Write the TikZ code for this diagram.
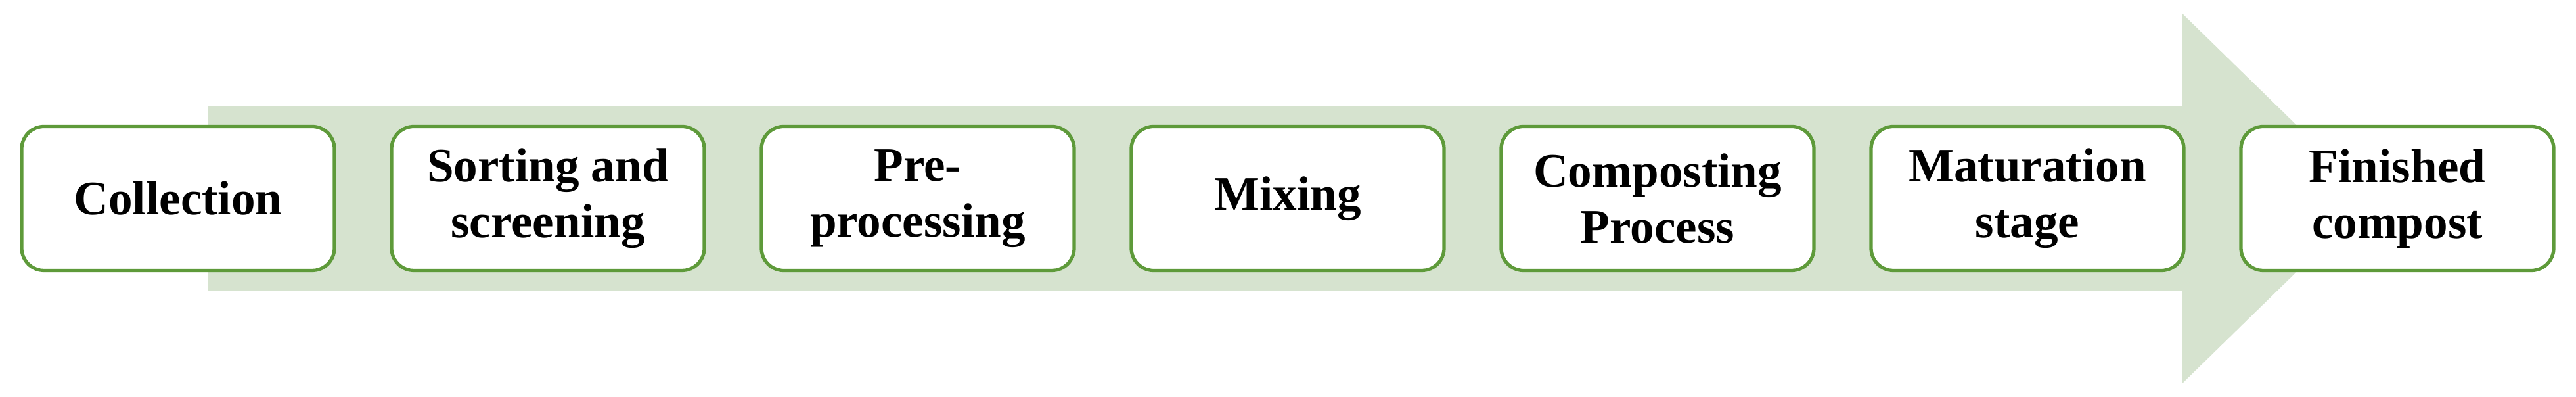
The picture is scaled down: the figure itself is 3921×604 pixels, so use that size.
\documentclass[tikz,border=0pt]{standalone}
\usepackage{fontspec}
\setmainfont{Liberation Serif}
\usepackage{tikz}
\definecolor{boxgreen}{RGB}{94,154,58}
\definecolor{arrowgreen}{RGB}{214,227,207}
\begin{document}
\begin{tikzpicture}[x = 0.05mm, y = 0.05mm,
  stage/.style = {draw = boxgreen, line width = .75pt, fill = white,
    rounded corners = 1.7mm, minimum width = 23.8mm, minimum height = 10.95mm,
    inner sep = 0pt, align = center,
    font = \fontsize{10.4}{12.1}\selectfont\bfseries}]
  \useasboundingbox (0,0) rectangle (3921,604);
  \fill[arrowgreen] (317,162) -- (3322,162) -- (3322,21) -- (3610,302)
    -- (3322,583) -- (3322,442) -- (317,442) -- cycle;
  \node[stage] (1) at (271,302) {Collection};
  \node[stage] (2) at (834,302) {Sorting and\\screening};
  \node[stage] (3) at (1397,302) {Pre-\\processing};
  \node[stage] (4) at (1960,302) {Mixing};
  \node[stage] (5) at (2523,302) {Composting\\Process};
  \node[stage] (6) at (3086,302) {Maturation\\stage};
  \node[stage] (7) at (3649,302) {Finished\\compost};
\end{tikzpicture}
\end{document}
